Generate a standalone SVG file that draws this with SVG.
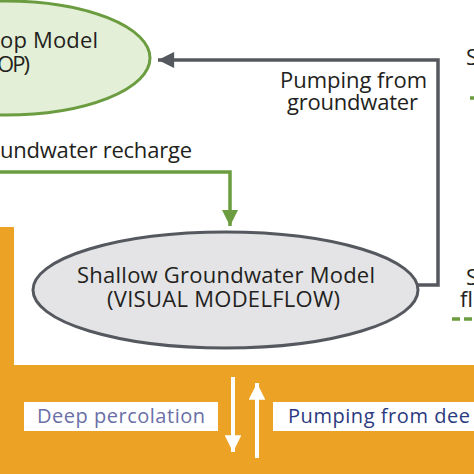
<svg xmlns="http://www.w3.org/2000/svg" width="474" height="474" viewBox="0 0 474 474">
<defs>
<style>
.t{font-family:"Open Sans","Liberation Sans",sans-serif;fill:#231f20;font-size:22px}
.gl{fill:none;stroke:#6b9d40;stroke-width:3.5}
.gr{fill:none;stroke:#55585e;stroke-width:3.5}
</style>
<marker id="ag" viewBox="0 0 10 10" refX="10" refY="5" markerWidth="4.6" markerHeight="5.7" markerUnits="strokeWidth" orient="auto"><path d="M0,0L10,5L0,10z" fill="#6b9d40"/></marker>
<marker id="ay" viewBox="0 0 10 10" refX="10" refY="5" markerWidth="5.7" markerHeight="4.6" markerUnits="strokeWidth" orient="auto"><path d="M0,0L10,5L0,10z" fill="#55585e"/></marker>
<marker id="aw" viewBox="0 0 10 10" refX="10" refY="5" markerWidth="5.5" markerHeight="4.2" markerUnits="strokeWidth" orient="auto"><path d="M0,0L10,5L0,10z" fill="#ffffff"/></marker>
</defs>
<rect width="474" height="474" fill="#ffffff"/>
<g id="aquifer">
<rect x="0" y="227" width="474" height="247" fill="#eca325"/>
<rect x="14" y="0" width="460" height="365" fill="#ffffff"/>
</g>
<g id="crop-model">
<ellipse cx="5" cy="58" rx="145" ry="57" fill="#e3efd6" stroke="#6b9d40" stroke-width="3"/>
<text class="t" x="0" y="48" textLength="98" lengthAdjust="spacing">op Model</text>
<text class="t" x="-3" y="72" textLength="33" lengthAdjust="spacing">OP)</text>
</g>
<g id="shallow-model">
<ellipse cx="225.5" cy="290" rx="192.5" ry="58" fill="#e4e4e6" stroke="#55585e" stroke-width="3"/>
<text class="t" x="77" y="283" textLength="298" lengthAdjust="spacing">Shallow Groundwater Model</text>
<text class="t" x="107" y="307" textLength="233" lengthAdjust="spacing">(VISUAL MODELFLOW)</text>
</g>
<g id="connectors">
<path class="gl" d="M0,172H230V226" marker-end="url(#ag)"/>
<path class="gr" d="M418,285H438V60H158" marker-end="url(#ay)"/>
<path d="M233,377V452" stroke="#ffffff" stroke-width="4" fill="none" marker-end="url(#aw)"/>
<path d="M257,458V383" stroke="#ffffff" stroke-width="4" fill="none" marker-end="url(#aw)"/>
<path d="M452,319H474" stroke="#6b9d40" stroke-width="3.5" stroke-dasharray="8,4" fill="none"/>
<path d="M470,98H474" stroke="#6b9d40" stroke-width="3.5" fill="none"/>
</g>
<g id="labels">
<text class="t" x="0" y="158" textLength="192" lengthAdjust="spacing">undwater recharge</text>
<text class="t" x="280" y="88" textLength="147" lengthAdjust="spacing">Pumping from</text>
<text class="t" x="287" y="110" textLength="131" lengthAdjust="spacing">groundwater</text>
<text class="t" x="466" y="65">S</text>
<text class="t" x="466" y="285">S</text>
<text class="t" x="460" y="307">fl</text>
</g>
<g id="deep-percolation">
<rect x="24" y="402" width="194" height="29" fill="#ffffff"/>
<text class="t" x="37" y="423" font-size="20" textLength="168" lengthAdjust="spacing" style="fill:#6b6fa8;font-size:20px">Deep percolation</text>
</g>
<g id="deep-pumping">
<rect x="273" y="402" width="201" height="29" fill="#ffffff"/>
<text class="t" x="288" y="423" textLength="182" lengthAdjust="spacing" style="fill:#2b3a80;font-size:20px">Pumping from dee</text>
</g>
</svg>
